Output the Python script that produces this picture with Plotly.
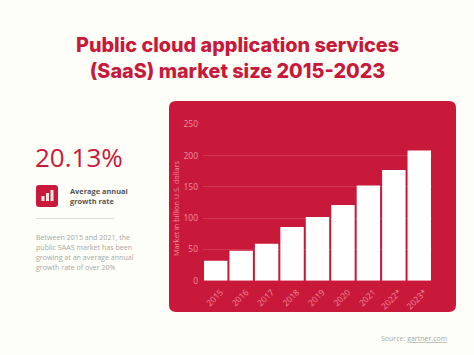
import plotly.graph_objects as go

years = ["2015", "2016", "2017", "2018", "2019", "2020", "2021", "2022*", "2023*"]
market = [32, 48, 59, 86, 102, 121, 152, 177, 208]
y_ticks = [0, 50, 100, 150, 200, 250]
title_text = "Public cloud application services<br>(SaaS) market size 2015-2023"
rate_text = "20.13%"
label_lines = ["Average annual", "growth rate"]
body_lines = ["Between 2015 and 2021, the", "public SAAS market has been",
              "growing at an average annual", "growth rate of over 20%"]
source_text = "Source: <u>gartner.com</u>"

W, H = 474, 355
RED = "#C8193A"
BG = "#FEFEF8"
TICK = "#EE8FA0"

def px(x): return x / W
def py(y): return 1 - y / H

def rrect(x0, y0, x1, y1, r):
    return (f"M{px(x0+r)},{py(y0)} L{px(x1-r)},{py(y0)} Q{px(x1)},{py(y0)} {px(x1)},{py(y0+r)} "
            f"L{px(x1)},{py(y1-r)} Q{px(x1)},{py(y1)} {px(x1-r)},{py(y1)} "
            f"L{px(x0+r)},{py(y1)} Q{px(x0)},{py(y1)} {px(x0)},{py(y1-r)} "
            f"L{px(x0)},{py(y0+r)} Q{px(x0)},{py(y0)} {px(x0+r)},{py(y0)} Z")

shapes = [
    dict(type="path", xref="paper", yref="paper", layer="below", path=rrect(169, 101, 456, 312, 7),
         fillcolor=RED, line_width=0),
    dict(type="path", xref="paper", yref="paper", path=rrect(36, 185, 58, 207, 3),
         fillcolor=RED, line_width=0),
    dict(type="line", xref="paper", yref="paper", x0=px(36), x1=px(114), y0=py(218.5), y1=py(218.5),
         line=dict(color="#DDDDD8", width=1)),
]
for x0, top in [(41.5, 196), (46, 193), (50.5, 190)]:
    shapes.append(dict(type="rect", xref="paper", yref="paper", x0=px(x0), x1=px(x0 + 3),
                       y0=py(top), y1=py(201), fillcolor="#F7E6E2", line_width=0))

def note(x, y, text, size, color, family="Open Sans", anchor="left", weight=None):
    font = dict(size=size, color=color, family=family)
    if weight:
        font["weight"] = weight
    return dict(xref="paper", yref="paper", x=px(x), y=py(y), text=text, showarrow=False,
                xanchor=anchor, yanchor="middle", align=anchor, font=font, borderpad=0)

annotations = [
    note(237, 58, title_text, 19.8, RED, "Inter", "center", 800),
    note(33.5, 157, rate_text, 26, RED),
    note(447.5, 338, source_text, 7, "#A8A8A4", anchor="right"),
    note(176, 209, "Market in billion U.S. dollars", 7.3, TICK, anchor="center"),
]
annotations[-1]["textangle"] = -90
for i, line in enumerate(label_lines):
    annotations.append(note(69, 191 + 10 * i, line, 7.4, "#555555", weight=700))
for i, line in enumerate(body_lines):
    annotations.append(note(34.5, 237 + 10 * i, line, 7.1, "#A8A8A4"))

fig = go.Figure(go.Bar(x=years, y=market, marker=dict(color="#FFFFFF", line_width=0)))
fig.update_layout(
    width=W, height=H, margin=dict(l=0, r=0, t=0, b=0),
    paper_bgcolor=BG, plot_bgcolor="rgba(0,0,0,0)", showlegend=False, bargap=0.08,
    shapes=shapes, annotations=annotations,
    font=dict(family="Open Sans", size=8.5, color=TICK),
)
fig.update_xaxes(domain=[px(203), px(432)], type="category", tickangle=-45, showgrid=False,
                 automargin=False, showline=False, ticks="", ticklabelstandoff=4, ticklabelshift=5,
                 tickfont=dict(size=8.5, color=TICK))
fig.update_yaxes(domain=[py(280.7), py(124.3)], range=[0, 250], tickvals=y_ticks, automargin=False,
                 gridcolor="#D23652", gridwidth=1, zeroline=False, showline=False, ticks="",
                 ticklabelstandoff=4, tickfont=dict(size=8.5, color=TICK))
fig.write_html("out.html", config={"displayModeBar": False},
               post_script="document.body.style.margin='0';document.documentElement.style.background='#FEFEF8';")
